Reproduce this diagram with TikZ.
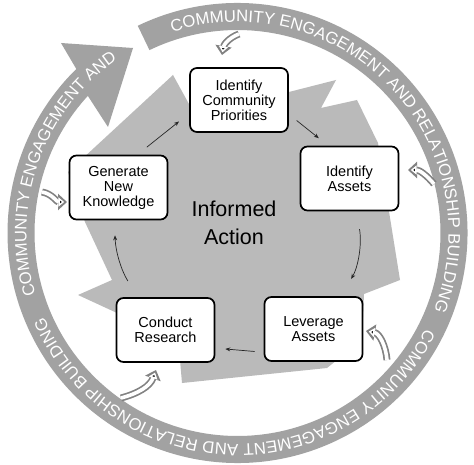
\documentclass[tikz,border=0pt]{standalone}
\usepackage{fontspec}
\setmainfont{Liberation Sans}
\usetikzlibrary{arrows.meta, decorations.text, calc}
\definecolor{ringgray}{RGB}{162,162,162}
\definecolor{innergray}{RGB}{186,186,186}
\definecolor{hollowgray}{RGB}{130,130,130}
\begin{document}
\begin{tikzpicture}[x=1pt,y=1pt,
  stepbox/.style={draw=black, line width=1.7pt, rounded corners=7pt, fill=white,
    minimum width=98pt, minimum height=64pt, align=center,
    font=\fontsize{14.5}{15}\selectfont, inner sep=0pt},
  conn/.style={draw=black!85, line width=0.7pt, -{Stealth[length=5pt,width=4pt]}},
  hollow/.style={draw=hollowgray, line width=7pt, -{Triangle[length=9pt,width=16pt]},
    postaction={draw=white, line width=3.6pt, shorten >=2.8pt, -{Triangle[length=5.8pt,width=9pt]}}},
  ringfont/.style={decorate, decoration={text along path, text color=white, text align=left}}
]
\useasboundingbox (0,0) rectangle (474,464);
\fill[white] (0,0) rectangle (474,464);
\coordinate (C) at (237.5,231);

% outer ring arrow
\fill[ringgray] ($(C)+(115.7:230)$) arc[start angle=115.7, end angle=-225.5, radius=230]
  -- (61,421) -- (133,416) -- (108,337)
  -- ($(C)+(-222.5:203)$) arc[start angle=-222.5, end angle=115.7, radius=203] -- cycle;

% ring texts
\path[ringfont, decoration={text={|\fontsize{16.7}{16.7}\selectfont|COMMUNITY ENGAGEMENT AND RELATIONSHIP BUILDING}}]
  ($(C)+(108:211)$) arc[start angle=108, end angle=-40, radius=211];
\path[ringfont, decoration={text={|\fontsize{16.7}{16.7}\selectfont|COMMUNITY ENGAGEMENT AND RELATIONSHIP BUILDING}}]
  ($(C)+(-27:211)$) arc[start angle=-27, end angle=-175, radius=211];
\path[ringfont, decoration={text={|\fontsize{16.7}{16.7}\selectfont|COMMUNITY ENGAGEMENT AND}}]
  ($(C)+(-163:211)$) arc[start angle=-163, end angle=-250, radius=211];

% inner gray shape
\fill[innergray] (173,389) -- (195,349) -- (285,371) -- (336,384) -- (321,356) -- (357,364)
  -- (378,321) -- (400,184) -- (364,170) -- (362,124) -- (327,96) -- (182,81) -- (180,104)
  -- (117,151) -- (78,169) -- (112,184) -- (85,242) -- (68,292) -- cycle;

% boxes
\node[stepbox] (icp) at (239,364) {Identify\\Community\\Priorities};
\node[stepbox] (ia) at (349.5,285.5) {Identify\\Assets};
\node[stepbox] (la) at (313.5,135) {Leverage\\Assets};
\node[stepbox] (cr) at (165.5,134) {Conduct\\Research};
\node[stepbox] (gnk) at (118.5,276.5) {Generate\\New\\Knowledge};
\node[align=center, font=\fontsize{21.5}{28}\selectfont, inner sep=0pt] (ia0) at (234,241) {Informed\\Action};

% cycle connectors
\draw[conn, shorten <=12pt, shorten >=13pt] (gnk.60) -- (icp.195);
\draw[conn, shorten <=10pt, shorten >=12pt] (icp.-16) -- (ia.123);
\draw[conn, shorten <=18pt, shorten >=20pt] (ia.-78) to[bend left=20] (la.50);
\draw[conn, shorten <=9pt, shorten >=10pt] (la.205) -- (cr.-20);
\draw[conn, shorten <=19pt, shorten >=15pt] (cr.130) to[bend left=15] (gnk.-97);

% hollow arrows from the ring
\coordinate (r1) at (239,430);
\coordinate (r2) at (434,280);
\coordinate (r3) at (387,104);
\coordinate (r4) at (121,66);
\coordinate (r5) at (42,272);
\coordinate (t1) at (222,409);
\coordinate (t2) at (408,294);
\coordinate (t3) at (366,133);
\coordinate (t4) at (156,94);
\coordinate (t5) at (67,262);
\draw[hollow] (r1) to[out=200, in=80] (t1);
\draw[hollow] (r2) to[out=130, in=0] (t2);
\draw[hollow] (r3) to[out=95, in=-10] (t3);
\draw[hollow] (r4) to[out=15, in=-110] (t4);
\draw[hollow] (r5) to[out=-10, in=180] (t5);
\end{tikzpicture}
\end{document}
